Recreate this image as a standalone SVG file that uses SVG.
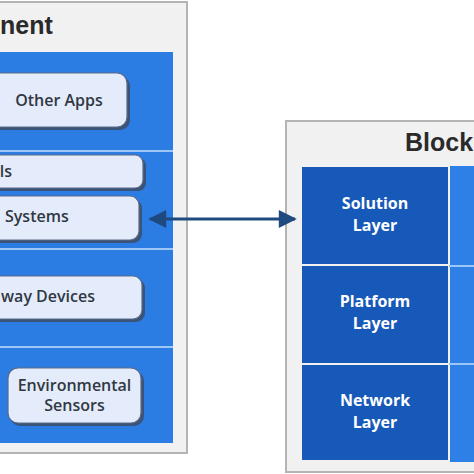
<svg xmlns="http://www.w3.org/2000/svg" width="474" height="474" viewBox="0 0 474 474">
<defs>
<style>
.panel{fill:#f1f1f1;stroke:#b4b4b4;stroke-width:2}
.blue{fill:#2b7de3}
.div{stroke:#9cc6f5;stroke-width:2}
.box{fill:#e4ecfb;stroke:#5b6a86;stroke-width:1.2}
.shadow{fill:#3d4b66;opacity:0.85}
.t{font-family:"Open Sans","Liberation Sans",sans-serif;font-weight:600;font-size:16px;fill:#313842}
.w{font-family:"Open Sans","Liberation Sans",sans-serif;font-weight:700;font-size:16px;fill:#ffffff;text-anchor:middle}
.title{font-family:"Liberation Sans","Open Sans",sans-serif;font-weight:700;font-size:25px;fill:#2a2a2a}
.dark{fill:#1659b9}
.light{fill:#2e80e6}
.conn{stroke:#1f4a80;stroke-width:3;fill:none}
</style>
<marker id="ah" viewBox="0 0 10 10" refX="9" refY="5" markerWidth="6.5" markerHeight="6" orient="auto-start-reverse" markerUnits="strokeWidth">
<path d="M0,0 L10,5 L0,10 z" fill="#1f4a80"/>
</marker>
</defs>

<g id="left-panel">
<rect class="panel" x="-10" y="2" width="197" height="451"/>
<text class="title" x="0" y="34">nent</text>
<rect class="blue" x="-10" y="52" width="183" height="391"/>
<line class="div" x1="-10" y1="151" x2="173" y2="151"/>
<line class="div" x1="-10" y1="249" x2="173" y2="249"/>
<line class="div" x1="-10" y1="347" x2="173" y2="347"/>
</g>

<g id="node-other-apps">
<rect class="shadow" x="-8" y="76" width="138" height="54" rx="10"/>
<rect class="box" x="-10" y="73" width="137" height="54" rx="10"/>
<text class="t" x="59" y="106" text-anchor="middle">Other Apps</text>
</g>

<g id="node-ls">
<rect class="shadow" x="-8" y="158" width="154" height="33" rx="8"/>
<rect class="box" x="-10" y="155" width="153" height="33" rx="8"/>
<text class="t" x="12" y="177" text-anchor="end">ls</text>
</g>

<g id="node-systems">
<rect class="shadow" x="-8" y="199" width="150" height="44" rx="9"/>
<rect class="box" x="-10" y="196" width="149" height="44" rx="9"/>
<text class="t" x="5" y="222">Systems</text>
</g>

<g id="node-gateway">
<rect class="shadow" x="-8" y="279" width="153" height="43" rx="9"/>
<rect class="box" x="-10" y="276" width="152" height="43" rx="9"/>
<text class="t" x="95" y="302" text-anchor="end">way Devices</text>
</g>

<g id="node-sensors">
<rect class="shadow" x="10" y="371" width="134" height="55" rx="10"/>
<rect class="box" x="8" y="368" width="133" height="55" rx="10"/>
<text class="t" x="74.5" y="391" text-anchor="middle">Environmental</text>
<text class="t" x="74.5" y="411" text-anchor="middle">Sensors</text>
</g>

<g id="right-panel">
<rect class="panel" x="286" y="121" width="200" height="351"/>
<text class="title" x="405" y="151">Block</text>
<rect class="light" x="450" y="166" width="40" height="296"/>
<line class="div" x1="449" y1="266" x2="480" y2="266"/>
<line class="div" x1="449" y1="364" x2="480" y2="364"/>
</g>

<g id="node-solution">
<rect class="dark" x="302" y="167" width="146" height="97"/>
<text class="w" x="375" y="209">Solution</text>
<text class="w" x="375" y="231">Layer</text>
</g>

<g id="node-platform">
<rect class="dark" x="302" y="266" width="146" height="97"/>
<text class="w" x="375" y="307">Platform</text>
<text class="w" x="375" y="329">Layer</text>
</g>

<g id="node-network">
<rect class="dark" x="302" y="365" width="146" height="95"/>
<text class="w" x="375" y="406">Network</text>
<text class="w" x="375" y="428">Layer</text>
</g>

<g id="connectors">
<line class="conn" x1="150" y1="219" x2="295" y2="219" marker-start="url(#ah)" marker-end="url(#ah)"/>
</g>
</svg>
